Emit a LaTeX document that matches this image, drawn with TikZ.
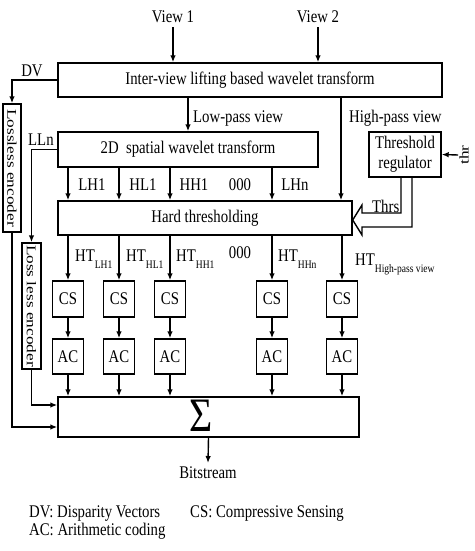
\documentclass[tikz,border=0pt]{standalone}
\usepackage{fontspec}
\setmainfont{Liberation Serif}[FakeStretch=0.83]
\newfontfamily\rotfont{Liberation Serif}[FakeStretch=1.3]
\usetikzlibrary{arrows.meta,calc}
\newcommand\htsub[1]{\raisebox{-7pt}{\fontsize{11.5}{12}\selectfont #1}}
\begin{document}
\begin{tikzpicture}[x=1pt,y=-1pt,font=\fontsize{17.8}{20}\selectfont,
  box/.style={draw,line width=1.4pt,inner sep=0pt},
  arr/.style={line width=1.4pt,-{Latex[length=7pt,width=5.5pt]}},
  ln/.style={line width=1.4pt},
  lbl/.style={inner sep=0pt},
  rot/.style={font=\rotfont\fontsize{13.3}{15}\selectfont},
  cell/.style={box,minimum width=31pt,minimum height=36pt}]
\useasboundingbox (0,0) rectangle (474,551);
% boxes
\node[box,minimum width=384pt,minimum height=34pt] (iv) at (250,80) {Inter-view lifting based wavelet transform};
\node[box,minimum width=260pt,minimum height=35pt] (sw) at (188,149.5) {2D\ \ spatial wavelet transform};
\node[box,minimum width=294pt,minimum height=34pt] (ht) at (205,218) {Hard thresholding};
\node[box,minimum width=72pt,minimum height=45pt,align=center] (tr) at (405,154.5) {Threshold\\regulator};
\node[box,rot,rotate=-90,minimum width=128pt,minimum height=18pt] (le1) at (12,168) {Lossless encoder};
\node[box,rot,rotate=-90,minimum width=126pt,minimum height=19pt] (le2) at (31.5,306) {Loss less encoder};
\foreach \i/\x in {1/68,2/119,3/170,4/272,5/342}{
  \node[cell] (cs\i) at (\x,299) {CS};
  \node[cell,minimum height=35pt] (ac\i) at (\x,356.5) {AC};
}
\node[box,minimum width=301pt,minimum height=40pt] (sum) at (208.5,417) {};
\node[lbl] (sig) at (201,416) {\fontsize{48}{48}\selectfont Σ};
% labels
\node[lbl,inner sep=4pt,anchor=base] (v1) at (173,23) {View 1};
\node[lbl,inner sep=4pt,anchor=base] (v2) at (318,23) {View 2};
\node[lbl,anchor=base] (dv) at (32,76) {DV};
\node[lbl,anchor=base west] (lp) at (193,122) {Low-pass view};
\node[lbl,anchor=base west] (hp) at (349,122) {High-pass view};
\node[lbl,anchor=base west] (lln) at (28,145) {LLn};
\node[lbl,anchor=base] (l1) at (92,190) {LH1};
\node[lbl,anchor=base] (l2) at (143,190) {HL1};
\node[lbl,anchor=base] (l3) at (194,190) {HH1};
\node[lbl,anchor=base] (l4) at (240,190) {000};
\node[lbl,anchor=base] (l5) at (295,190) {LHn};
\node[lbl,anchor=base west] (h1) at (75,261) {HT\htsub{LH1}};
\node[lbl,anchor=base west] (h2) at (126,261) {HT\htsub{HL1}};
\node[lbl,anchor=base west] (h3) at (176,261) {HT\htsub{HH1}};
\node[lbl,anchor=base] (h0) at (240,258) {000};
\node[lbl,anchor=base west] (h4) at (278,261) {HT\htsub{HHn}};
\node[lbl,anchor=base west] (h5) at (355,265) {HT\htsub{High-pass view}};
\node[lbl,anchor=base west] (thrs) at (372,212) {Thrs};
\node[rot,rotate=90,inner sep=1pt] (thr) at (464,155) {thr};
\node[lbl,inner sep=3pt,anchor=base] (bs) at (208,478) {Bitstream};
\node[lbl,anchor=base west] (lg1) at (29,517) {DV: Disparity Vectors};
\node[lbl,anchor=base west] (lg2) at (190,517) {CS: Compressive Sensing};
\node[lbl,anchor=base west] (lg3) at (29,535) {AC: Arithmetic coding};
% connectors
\coordinate (hpx) at (341,0);
\draw[arr] (v1.south) -- (v1 |- iv.north);
\draw[arr] (v2.south) -- (v2 |- iv.north);
\draw[arr] (iv.south -| sw.north) -- (sw.north);
\draw[arr] (iv.south -| hpx) -- (ht.north -| hpx);
\draw[arr] (iv.west) -| (le1.west);
\draw[arr] (sw.west) -| (le2.west);
\draw[arr] (le1.east) |- ([yshift=-10pt]sum.west);
\draw[arr] (le2.east) |- ([yshift=12pt]sum.west);
\foreach \i in {1,2,3,4}{\draw[arr] (sw.south -| cs\i) -- (ht.north -| cs\i);}
\foreach \i in {1,...,5}{
  \draw[arr] (ht.south -| cs\i) -- (cs\i.north);
  \draw[arr] (cs\i.south) -- (ac\i.north);
  \draw[arr] (ac\i.south) -- (sum.north -| ac\i);
}
\draw[arr] (thr.north) -- (tr.east);
\draw[arr] (sum.south) -- (bs.north);
% hollow arrow from threshold regulator
\coordinate (ha1) at (401,0);
\coordinate (ha2) at (412,0);
\coordinate (tip) at ([yshift=-2pt]ht.east);
\draw[ln,line join=miter] (ha1 |- tr.south) -- (ha1 |- 0,213) -- (362,213) -- (362,205) -- (tip)
  -- (362,235) -- (362,227) -- (ha2 |- 0,227) -- (ha2 |- tr.south);
\end{tikzpicture}
\end{document}
